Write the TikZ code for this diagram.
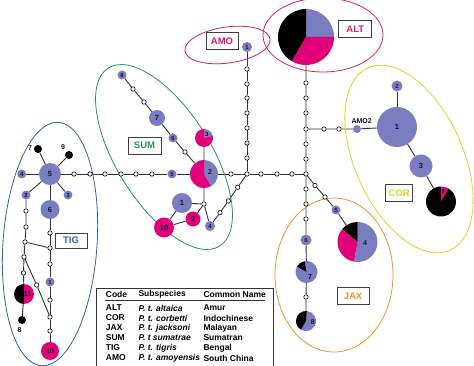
\documentclass[tikz,border=0pt]{standalone}
\usepackage{fontspec}
\setmainfont{Liberation Sans}
\usetikzlibrary{backgrounds}
\definecolor{pur}{RGB}{122,125,192}
\definecolor{mag}{RGB}{226,0,122}
\definecolor{lbl}{RGB}{20,20,45}
\definecolor{tigblue}{RGB}{45,100,175}
\definecolor{sumgreen}{RGB}{35,150,85}
\definecolor{altred}{RGB}{222,35,85}
\definecolor{amopink}{RGB}{218,25,110}
\definecolor{coryel}{RGB}{222,212,40}
\definecolor{jaxor}{RGB}{238,150,45}
\newcommand{\pw}[5]{\fill[#5] (#1.center) -- ++(#3:#2pt) arc[start angle=#3, end angle=#4, radius=#2pt] -- cycle;}
\tikzset{
  sm/.style={circle, draw=black, fill=white, line width=0.6pt, inner sep=0pt, minimum size=4.4pt},
  hp/.style={circle, inner sep=0pt, minimum size=#1, text=lbl, font=\bfseries\fontsize{7.5}{7.5}\selectfont},
  hs/.style={circle, inner sep=0pt, minimum size=#1, text=lbl, font=\bfseries\fontsize{6}{6}\selectfont},
  edge/.style={draw=black!80, line width=0.9pt},
  grp/.style={line width=0.8pt},
  lab/.style={draw=black!75, fill=white, line width=0.7pt, minimum height=17pt, inner sep=0pt, font=\bfseries\fontsize{9.5}{9.5}\selectfont},
  lg/.style={anchor=west, inner sep=0pt, font=\bfseries\fontsize{8.5}{8.5}\selectfont},
  lgi/.style={anchor=west, inner sep=0pt, font=\bfseries\itshape\fontsize{8.5}{8.5}\selectfont},
  free/.style={inner sep=0pt, text=lbl, font=\bfseries\fontsize{7}{7}\selectfont}
}
\begin{document}
\begin{tikzpicture}[x=1pt,y=1pt]
\useasboundingbox (0,0) rectangle (474,-366);

% ---------- group ellipses ----------
\draw[grp, tigblue, rotate around={-4:(50,-244)}] (50,-244) ellipse [x radius=47pt, y radius=122pt];
\draw[grp, sumgreen, rotate around={-58:(164,-157)}] (164,-157) ellipse [x radius=105pt, y radius=47pt];
\draw[grp, coryel, rotate around={-65.7:(409,-159)}] (409,-159) ellipse [x radius=100pt, y radius=54pt];
\draw[grp, jaxor] (334,-275) ellipse [x radius=59pt, y radius=77pt];
\draw[grp, altred] (323,-35) ellipse [x radius=60pt, y radius=37pt];
\draw[grp, amopink, rotate around={8:(227.5,-45)}] (227.5,-45) ellipse [x radius=43pt, y radius=18pt];

% ---------- trunk ----------
\node[hs=10pt, fill=pur] (amo1) at (247,-47) {1};
\node[sm] (c1) at (247,-69) {};
\node[sm] (c2) at (247,-84) {};
\node[sm] (c3) at (247,-98) {};
\node[sm] (c4) at (247,-113) {};
\node[sm] (c5) at (247,-128) {};
\node[sm] (c6) at (247,-143) {};
\node[sm] (c7) at (247,-158) {};
\node[sm] (j1) at (247,-174) {};

% horizontal
\node[hp=22pt, fill=pur] (t5) at (50,-174) {5};
\node[sm] (h1) at (74,-174) {};
\node[sm] (h2) at (90,-174) {};
\node[sm] (h3) at (105,-174) {};
\node[sm] (h4) at (121,-174) {};
\node[sm] (h5) at (136,-174) {};
\node[sm] (h6) at (152,-174) {};
\node[hs=9pt, fill=pur] (s5) at (172,-174) {5};
\node[hp=28pt] (s2) at (204,-174) {};
\node[sm] (h7) at (231,-174) {};
\node[sm] (h8) at (261,-174) {};
\node[sm] (h9) at (277,-174) {};
\node[sm] (h10) at (292,-174) {};
\node[sm] (j2) at (306,-174) {};

% ALT column
\node[hp=56pt] (alt) at (306,-37) {};
\node[sm] (a1) at (306,-83) {};
\node[sm] (a2) at (306,-98) {};
\node[sm] (a3) at (306,-113) {};
\node[sm] (j3) at (306,-129) {};
\node[sm] (a4) at (306,-144) {};
\node[sm] (a5) at (306,-159) {};
\node[sm] (d1) at (306,-189) {};
\node[sm] (d2) at (306,-204) {};
\node[sm] (d3) at (306,-219) {};
\node[hs=11pt, fill=pur] (x6) at (306,-240) {6};
\node[hp=22pt] (x7) at (306.5,-272) {};
\node[sm] (d4) at (306,-297) {};
\node[hp=20pt] (x8) at (306,-321) {};

% COR
\node[sm] (e1) at (324,-129) {};
\node[sm] (e2) at (339,-129) {};
\node[hs=8pt, fill=pur] (amo2) at (357,-129) {};
\node[hp=40pt, fill=pur] (cor1) at (397,-127) {1};
\node[hs=11pt, fill=pur] (cor2) at (397,-86) {2};
\node[hp=23pt, fill=pur] (cor3) at (421,-166) {3};
\node[hp=30pt] (cor9) at (441,-201.5) {};

% JAX diagonal
\node[sm] (f1) at (315,-185.5) {};
\node[sm] (f2) at (325,-197) {};
\node[hs=9pt, fill=pur] (x5) at (336,-210) {5};
\node[hp=40pt] (x4) at (357.5,-242) {};

% SUM
\node[sm] (g1) at (237.7,-187.3) {};
\node[sm] (g2) at (228.3,-201) {};
\node[sm] (g3) at (220,-212.7) {};
\node[hs=10pt, fill=pur] (s4) at (210,-226) {4};
\node[hp=18pt] (s3) at (204,-138) {};
\node[sm] (j4) at (204,-204) {};
\node[hs=9pt, fill=pur] (s8) at (122,-75) {8};
\node[sm] (k1) at (133,-89) {};
\node[sm] (k2) at (144,-102) {};
\node[hp=16pt, fill=pur] (s7) at (157,-118) {7};
\node[hs=9pt, fill=pur] (s6) at (173,-138) {6};
\node[sm] (k3) at (185,-152) {};
\node[hp=20pt, fill=pur] (s1) at (182,-203) {1};
\node[hp=15pt, fill=mag] (s9) at (193,-219) {9};
\node[hp=20pt, fill=mag] (s10) at (164,-227.5) {10};

% TIG
\node[hs=9pt, fill=pur] (t4) at (21.7,-174) {4};
\node[hs=8pt, fill=black] (t7) at (38,-149) {};
\node[hs=8pt, fill=black] (t9) at (69,-155) {};
\node[hs=9pt, fill=pur] (t3) at (68,-195) {3};
\node[hs=9pt, fill=pur] (t2) at (26,-195) {2};
\node[hp=19pt, fill=pur] (t6) at (50,-209.5) {6};
\node[sm] (m1) at (26,-211) {};
\node[sm] (m2) at (26,-227) {};
\node[sm] (ja) at (25,-242) {};
\node[sm] (jb) at (24,-257) {};
\node[sm] (m3) at (23.5,-273) {};
\node[hp=20pt] (t11) at (24,-294) {};
\node[hs=8pt, fill=black] (t8) at (22,-320) {};
\node[sm] (n1) at (50,-233) {};
\node[sm] (jc) at (50,-248) {};
\node[sm] (n2) at (50,-264) {};
\node[hs=9pt, fill=pur] (t1) at (50,-282) {1};
\node[sm] (n3) at (50,-300) {};
\node[sm] (jd) at (50,-317) {};
\node[sm] (n4) at (50,-331) {};
\node[hp=18pt, fill=mag] (t10) at (50,-351) {10};
\node[sm] (p1) at (36.7,-285) {};

% ---------- connectors ----------
\begin{scope}[on background layer]
\fill[white] (0,0) rectangle (474,-366);
\draw[edge] (amo1) -- (c1) -- (c2) -- (c3) -- (c4) -- (c5) -- (c6) -- (c7) -- (j1);
\draw[edge] (t5) -- (h1) -- (h2) -- (h3) -- (h4) -- (h5) -- (h6) -- (s5) -- (s2) -- (h7) -- (j1) -- (h8) -- (h9) -- (h10) -- (j2);
\draw[edge] (alt) -- (a1) -- (a2) -- (a3) -- (j3) -- (a4) -- (a5) -- (j2) -- (d1) -- (d2) -- (d3) -- (x6) -- (x7) -- (d4) -- (x8);
\draw[edge] (j3) -- (e1) -- (e2) -- (amo2) -- (cor1) -- (cor3) -- (cor9);
\draw[edge] (cor1) -- (cor2);
\draw[edge] (j2) -- (f1) -- (f2) -- (x5) -- (x4);
\draw[edge] (j1) -- (g1) -- (g2) -- (g3) -- (s4);
\draw[edge] (s3) -- (s2) -- (j4) -- (s4);
\draw[edge] (s8) -- (k1) -- (k2) -- (s7) -- (s6) -- (k3) -- (s2);
\draw[edge] (j4) -- (s1) -- (s10) -- (s9) -- (j4);
\draw[edge] (t5) -- (t4);
\draw[edge] (t5) -- (t7);
\draw[edge] (t5) -- (t9);
\draw[edge] (t5) -- (t3);
\draw[edge] (t5) -- (t2);
\draw[edge] (t5) -- (t6);
\draw[edge] (t2) -- (m1) -- (m2) -- (ja) -- (jb) -- (m3) -- (t11) -- (t8);
\draw[edge] (t6) -- (n1) -- (jc) -- (n2) -- (t1) -- (n3) -- (jd) -- (n4) -- (t10);
\draw[edge] (ja) -- (jc);
\draw[edge] (jb) -- (p1) -- (jd);
\end{scope}

% ---------- pies ----------
\pw{alt}{28}{0}{90}{pur}
\pw{alt}{28}{90}{240}{black}
\pw{alt}{28}{240}{360}{mag}
\pw{s2}{14}{-60}{90}{pur}
\pw{s2}{14}{90}{300}{mag}
\pw{s3}{9}{15}{90}{pur}
\pw{s3}{9}{90}{375}{mag}
\pw{cor9}{15}{88}{420}{black}
\pw{cor9}{15}{60}{88}{mag}
\pw{x4}{20}{-100}{90}{pur}
\pw{x4}{20}{90}{140}{black}
\pw{x4}{20}{140}{260}{mag}
\pw{x7}{11}{150}{460}{pur}
\pw{x7}{11}{100}{150}{black}
\pw{x8}{10}{240}{445}{pur}
\pw{x8}{10}{85}{240}{black}
\pw{t11}{10}{90}{270}{black}
\pw{t11}{10}{-90}{90}{mag}

% pie labels
\node[free] (l2) at (210,-172) {2};
\node[free, font=\bfseries\fontsize{6}{6}\selectfont] (l3) at (206.7,-134.3) {3};
\node[free, font=\bfseries\fontsize{6}{6}\selectfont] (l9) at (443,-191.5) {9};
\node[free] (l4) at (365,-243.3) {4};
\node[free] (l7) at (310,-276.7) {7};
\node[free] (l8) at (312.7,-321.7) {8};
\node[free] (l11) at (27.5,-294) {11};
\node[free] (lt7) at (30,-148.5) {7};
\node[free] (lt9) at (63,-147.5) {9};
\node[free] (lt8) at (19.5,-330) {8};
\node[free] (lamo2) at (361.7,-120.7) {AMO2};

% ---------- group labels ----------
\node[lab, minimum width=32pt, text=amopink] (amolab) at (222,-41) {AMO};
\node[lab, minimum width=33pt, text=altred] (altlab) at (355.3,-29) {ALT};
\node[lab, minimum width=33pt, text=sumgreen] (sumlab) at (144.5,-145.5) {SUM};
\node[lab, minimum width=32pt, minimum height=15pt, text=tigblue] (tiglab) at (71,-240.5) {TIG};
\node[lab, minimum width=32pt, text=jaxor] (jaxlab) at (353,-296) {JAX};
\node[lab, minimum width=27pt, text=coryel] (corlab) at (399.3,-193) {COR};

% ---------- legend ----------
\draw[black!80, line width=0.7pt] (96,-366) -- (96,-288) -- (273,-288) -- (273,-366);
\draw[black!80, line width=0.6pt] (105,-300.5) -- (265,-300.5);
\node[lg] (hc) at (105.7,-294.5) {Code};
\node[lg] (hs) at (138.3,-294.5) {Subspecies};
\node[lg] (hn) at (203.3,-294.5) {Common Name};
\node[lg] (r1a) at (105.7,-308) {ALT};
\node[lgi] (r1b) at (138.3,-308) {P. t. altaica};
\node[lg] (r1c) at (203.3,-308) {Amur};
\node[lg] (r2a) at (105.7,-318) {COR};
\node[lgi] (r2b) at (138.3,-318) {P. t. corbetti};
\node[lg] (r2c) at (203.3,-318) {Indochinese};
\node[lg] (r3a) at (105.7,-328) {JAX};
\node[lgi] (r3b) at (138.3,-328) {P. t. jacksoni};
\node[lg] (r3c) at (203.3,-328) {Malayan};
\node[lg] (r4a) at (105.7,-338) {SUM};
\node[lgi] (r4b) at (138.3,-338) {P. t sumatrae};
\node[lg] (r4c) at (203.3,-338) {Sumatran};
\node[lg] (r5a) at (105.7,-348) {TIG};
\node[lgi] (r5b) at (138.3,-348) {P. t. tigris};
\node[lg] (r5c) at (203.3,-348) {Bengal};
\node[lg] (r6a) at (105.7,-358) {AMO};
\node[lgi] (r6b) at (138.3,-358) {P. t. amoyensis};
\node[lg] (r6c) at (203.3,-358) {South China};
\end{tikzpicture}
\end{document}
